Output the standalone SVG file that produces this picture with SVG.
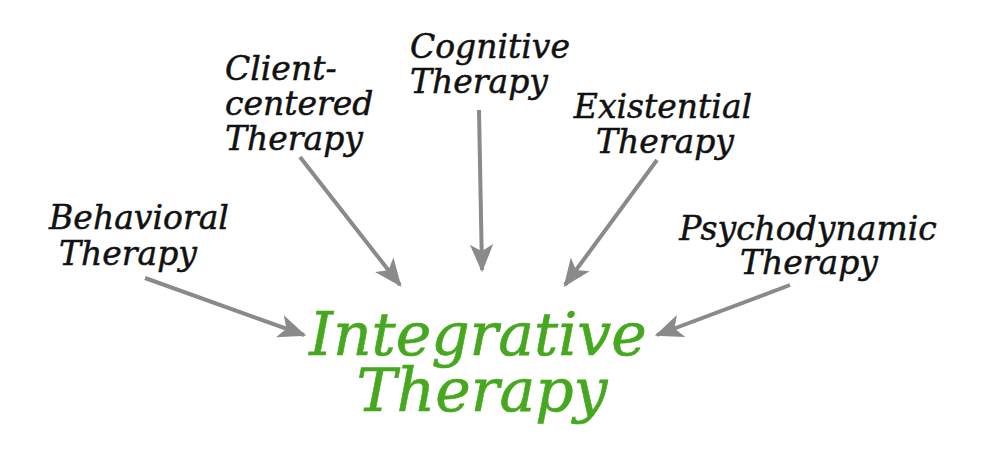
<svg xmlns="http://www.w3.org/2000/svg" width="992" height="464" viewBox="0 0 992 464">
<defs>
<style>
.lbl{font-family:"DejaVu Serif","Liberation Serif",serif;font-style:italic;font-size:33px;fill:#111;stroke:#111;stroke-width:0.5;}
.main{font-family:"DejaVu Serif","Liberation Serif",serif;font-style:italic;font-size:60px;fill:#46a81e;stroke:#46a81e;stroke-width:0.6;text-anchor:middle;}
.conn{stroke:#8a8a8a;stroke-width:4;fill:none;marker-end:url(#ah);}
</style>
<marker id="ah" viewBox="0 0 12 10" refX="11" refY="5" markerWidth="7" markerHeight="6" orient="auto" markerUnits="strokeWidth">
<path d="M0,0 L12,5 L0,10 L3,5 Z" fill="#8a8a8a"/>
</marker>
</defs>
<rect width="992" height="464" fill="#fff"/>
<g id="connectors">
<line class="conn" x1="145" y1="278" x2="304" y2="335"/>
<line class="conn" x1="300" y1="157" x2="400" y2="285"/>
<line class="conn" x1="479" y1="110" x2="482" y2="270"/>
<line class="conn" x1="657" y1="160" x2="565" y2="285"/>
<line class="conn" x1="790" y1="285" x2="657" y2="335"/>
</g>
<g id="behavioral">
<text class="lbl" x="139" y="229" text-anchor="middle">Behavioral</text>
<text class="lbl" x="128" y="265" text-anchor="middle">Therapy</text>
</g>
<g id="client-centered">
<text class="lbl" x="225" y="80">Client-</text>
<text class="lbl" x="225" y="115">centered</text>
<text class="lbl" x="225" y="150">Therapy</text>
</g>
<g id="cognitive">
<text class="lbl" x="490" y="58" text-anchor="middle">Cognitive</text>
<text class="lbl" x="479" y="93" text-anchor="middle">Therapy</text>
</g>
<g id="existential">
<text class="lbl" x="663" y="118" text-anchor="middle">Existential</text>
<text class="lbl" x="665" y="153" text-anchor="middle">Therapy</text>
</g>
<g id="psychodynamic">
<text class="lbl" x="808" y="240" text-anchor="middle">Psychodynamic</text>
<text class="lbl" x="809" y="274" text-anchor="middle">Therapy</text>
</g>
<g id="integrative">
<text class="main" x="478" y="355">Integrative</text>
<text class="main" x="482" y="411">Therapy</text>
</g>
</svg>
